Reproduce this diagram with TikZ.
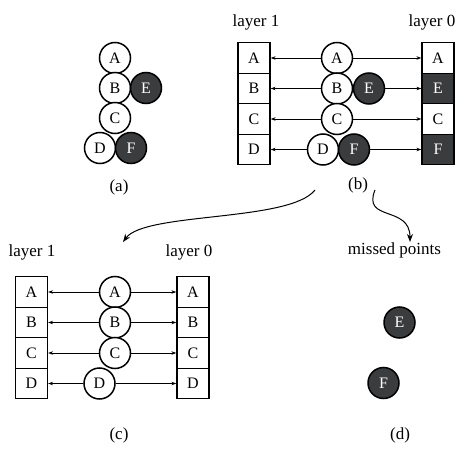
\documentclass[tikz,border=0pt]{standalone}
\usepackage{fontspec}
\setmainfont{Liberation Serif}
\usetikzlibrary{arrows.meta}
\definecolor{pointdark}{HTML}{3A3C3E}
\begin{document}
\begin{tikzpicture}[x=1pt, y=-1pt,
  pt/.style={circle, draw, line width=1.5pt, minimum size=31pt, inner sep=0pt, fill=white, font=\fontsize{16}{19}\selectfont},
  misspt/.style={pt, fill=pointdark, text=white},
  cell/.style={rectangle, draw, line width=1.3pt, minimum width=32pt, minimum height=30.5pt, inner sep=0pt, font=\fontsize{16}{19}\selectfont},
  misscell/.style={cell, fill=pointdark, text=white},
  lbl/.style={font=\fontsize{17}{20}\selectfont},
  link/.style={-{Stealth[length=5pt,width=3.5pt]}, line width=0.7pt},
  flow/.style={-{Stealth[length=8pt,width=6pt]}, line width=1pt}]
  \useasboundingbox (0,0) rectangle (474,452);
  % (a)
  \node (aA) [pt] at (115,58) {A};
  \node (aB) [pt] at (115,88) {B};
  \node (aE) [misspt] at (146,88) {E};
  \node (aC) [pt] at (115,118) {C};
  \node (aD) [pt] at (100,148) {D};
  \node (aF) [misspt] at (131,148) {F};
  \node (capa) [lbl] at (119,187) {(a)};
  % (b)
  \node (blayer1) [lbl] at (256,22) {layer 1};
  \node (blayer0) [lbl] at (432,22) {layer 0};
  \node (b1A) [cell] at (254,58) {A};
  \node (b1B) [cell] at (254,88.5) {B};
  \node (b1C) [cell] at (254,119) {C};
  \node (b1D) [cell] at (254,149.5) {D};
  \node (b0A) [cell] at (438,58) {A};
  \node (b0E) [misscell] at (438,88.5) {E};
  \node (b0C) [cell] at (438,119) {C};
  \node (b0F) [misscell] at (438,149.5) {F};
  \node (bA) [pt] at (337,58) {A};
  \node (bB) [pt] at (337,88.5) {B};
  \node (bE) [misspt] at (369,88.5) {E};
  \node (bC) [pt] at (337,119) {C};
  \node (bD) [pt] at (323,149.5) {D};
  \node (bF) [misspt] at (354,149.5) {F};
  \draw[link] (bA) -- (b1A);
  \draw[link] (bA) -- (b0A);
  \draw[link] (bB) -- (b1B);
  \draw[link] (bE) -- (b0E);
  \draw[link] (bC) -- (b1C);
  \draw[link] (bC) -- (b0C);
  \draw[link] (bD) -- (b1D);
  \draw[link] (bF) -- (b0F);
  \node (capb) [lbl] at (358,185) {(b)};
  % (c)
  \node (clayer1) [lbl] at (32,252) {layer 1};
  \node (clayer0) [lbl] at (189,252) {layer 0};
  \node (c1A) [cell] at (31.5,292) {A};
  \node (c1B) [cell] at (31.5,322.5) {B};
  \node (c1C) [cell] at (31.5,353) {C};
  \node (c1D) [cell] at (31.5,383.5) {D};
  \node (c0A) [cell] at (193,292) {A};
  \node (c0B) [cell] at (193,322.5) {B};
  \node (c0C) [cell] at (193,353) {C};
  \node (c0D) [cell] at (193,383.5) {D};
  \node (cA) [pt] at (115,292) {A};
  \node (cB) [pt] at (115,322.5) {B};
  \node (cC) [pt] at (115,353) {C};
  \node (cD) [pt] at (99.5,383.5) {D};
  \draw[link] (cA) -- (c1A);
  \draw[link] (cA) -- (c0A);
  \draw[link] (cB) -- (c1B);
  \draw[link] (cB) -- (c0B);
  \draw[link] (cC) -- (c1C);
  \draw[link] (cC) -- (c0C);
  \draw[link] (cD) -- (c1D);
  \draw[link] (cD) -- (c0D);
  \node (capc) [lbl] at (119,435) {(c)};
  % (d)
  \node (missed) [lbl] at (394.5,250) {missed points};
  \node (dE) [misspt] at (399.5,322.5) {E};
  \node (dF) [misspt] at (383.5,383) {F};
  \node (capd) [lbl] at (400,435) {(d)};
  % flow between panels
  \coordinate (from1) at (315,190);
  \coordinate (to1) at (123,242);
  \coordinate (from2) at (375,190);
  \coordinate (to2) at (410,242);
  \draw[flow] (from1) .. controls (290,222) and (145,212) .. (to1);
  \draw[flow] (from2) .. controls (362,222) and (410,205) .. (to2);
\end{tikzpicture}
\end{document}
